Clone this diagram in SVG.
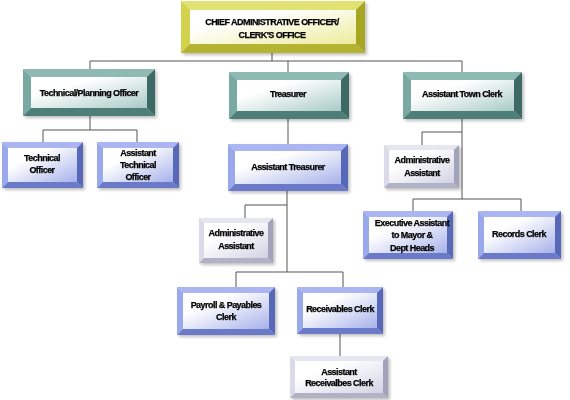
<svg xmlns="http://www.w3.org/2000/svg" width="570" height="400" viewBox="0 0 570 400">
<defs>
<linearGradient id="gy" x1="0" y1="0" x2="1" y2="1"><stop offset="0.3" stop-color="#ffffff"/><stop offset="1" stop-color="#ecec9c"/></linearGradient>
<linearGradient id="gt" x1="0" y1="0" x2="1" y2="1"><stop offset="0.3" stop-color="#ffffff"/><stop offset="1" stop-color="#a9cbc6"/></linearGradient>
<linearGradient id="gb" x1="0" y1="0" x2="1" y2="1"><stop offset="0.3" stop-color="#ffffff"/><stop offset="1" stop-color="#a7b2ea"/></linearGradient>
<linearGradient id="gg" x1="0" y1="0" x2="1" y2="1"><stop offset="0.3" stop-color="#ffffff"/><stop offset="1" stop-color="#d2d2e4"/></linearGradient>
<filter id="sh" x="-10%" y="-10%" width="125%" height="130%"><feDropShadow dx="2" dy="2" stdDeviation="1.5" flood-color="#000" flood-opacity="0.25"/></filter>
</defs>
<style>
.y .t{fill:#e2e272}.y .l{fill:#d2d24e}.y .r{fill:#a6a622}.y .b{fill:#b4b432}.y .i{fill:url(#gy)}
.c .t{fill:#8fbab3}.c .l{fill:#79a9a2}.c .r{fill:#3e6b65}.c .b{fill:#4e7e78}.c .i{fill:url(#gt)}
.u .t{fill:#aab5f2}.u .l{fill:#9aa8ec}.u .r{fill:#5867b8}.u .b{fill:#6a79c8}.u .i{fill:url(#gb)}
.g .t{fill:#e6e6f0}.g .l{fill:#dadae8}.g .r{fill:#a2a2ba}.g .b{fill:#b2b2c6}.g .i{fill:url(#gg)}
.node{filter:url(#sh)}
text{font-family:"Liberation Sans",Arial,sans-serif;font-weight:bold;font-size:9px;letter-spacing:-0.55px;text-anchor:middle;fill:#000;stroke:#000;stroke-width:0.25px}
.links line{stroke:#555;stroke-width:1}
</style>
<g class="links">
<line x1="272" y1="53" x2="272" y2="61"/><line x1="90" y1="61" x2="462" y2="61"/>
<line x1="90" y1="61" x2="90" y2="69"/><line x1="288" y1="61" x2="288" y2="72"/><line x1="462" y1="61" x2="462" y2="72"/>
<line x1="90" y1="116" x2="90" y2="130"/><line x1="43" y1="130" x2="137" y2="130"/>
<line x1="43" y1="130" x2="43" y2="142"/><line x1="137" y1="130" x2="137" y2="142"/>
<line x1="288" y1="119" x2="288" y2="144"/>
<line x1="287" y1="191" x2="287" y2="272"/><line x1="245" y1="205" x2="287" y2="205"/><line x1="245" y1="205" x2="245" y2="218"/>
<line x1="236" y1="272" x2="343" y2="272"/><line x1="236" y1="272" x2="236" y2="287"/><line x1="343" y1="272" x2="343" y2="287"/>
<line x1="340" y1="334" x2="340" y2="356"/>
<line x1="462" y1="119" x2="462" y2="199"/><line x1="422" y1="132" x2="462" y2="132"/><line x1="422" y1="132" x2="422" y2="145"/>
<line x1="413" y1="199" x2="521" y2="199"/><line x1="413" y1="199" x2="413" y2="211"/><line x1="521" y1="199" x2="521" y2="211"/>
</g>
<g id="chief" class="node y">
<polygon class="t" points="181,1 365,1 356,10 190,10"/><polygon class="l" points="181,1 190,10 190,44 181,53"/><polygon class="r" points="365,1 365,53 356,44 356,10"/><polygon class="b" points="181,53 365,53 356,44 190,44"/><rect class="i" x="190" y="10" width="166" height="34"/>
<text x="272" y="25">CHIEF ADMINISTRATIVE OFFICER/</text><text x="272" y="38">CLERK'S OFFICE</text>
</g>
<g id="planning" class="node c">
<polygon class="t" points="23,69 155,69 147,77 31,77"/><polygon class="l" points="23,69 31,77 31,108 23,116"/><polygon class="r" points="155,69 155,116 147,108 147,77"/><polygon class="b" points="23,116 155,116 147,108 31,108"/><rect class="i" x="31" y="77" width="116" height="31"/>
<text x="89" y="96">Technical/Planning Officer</text>
</g>
<g id="treasurer" class="node c">
<polygon class="t" points="229,72 349,72 341,80 237,80"/><polygon class="l" points="229,72 237,80 237,111 229,119"/><polygon class="r" points="349,72 349,119 341,111 341,80"/><polygon class="b" points="229,119 349,119 341,111 237,111"/><rect class="i" x="237" y="80" width="104" height="31"/>
<text x="288" y="97">Treasurer</text>
</g>
<g id="townclerk" class="node c">
<polygon class="t" points="403,72 522,72 514,80 411,80"/><polygon class="l" points="403,72 411,80 411,111 403,119"/><polygon class="r" points="522,72 522,119 514,111 514,80"/><polygon class="b" points="403,119 522,119 514,111 411,111"/><rect class="i" x="411" y="80" width="103" height="31"/>
<text x="462" y="97">Assistant Town Clerk</text>
</g>
<g id="techofficer" class="node u">
<polygon class="t" points="2,142 83,142 77,148 8,148"/><polygon class="l" points="2,142 8,148 8,182 2,188"/><polygon class="r" points="83,142 83,188 77,182 77,148"/><polygon class="b" points="2,188 83,188 77,182 8,182"/><rect class="i" x="8" y="148" width="69" height="34"/>
<text x="42" y="161">Technical</text><text x="42" y="173">Officer</text>
</g>
<g id="asttechofficer" class="node u">
<polygon class="t" points="97,142 179,142 173,148 103,148"/><polygon class="l" points="97,142 103,148 103,182 97,188"/><polygon class="r" points="179,142 179,188 173,182 173,148"/><polygon class="b" points="97,188 179,188 173,182 103,182"/><rect class="i" x="103" y="148" width="70" height="34"/>
<text x="138" y="156">Assistant</text><text x="138" y="168">Technical</text><text x="138" y="180">Officer</text>
</g>
<g id="asttreasurer" class="node u">
<polygon class="t" points="228,144 348,144 341,151 235,151"/><polygon class="l" points="228,144 235,151 235,184 228,191"/><polygon class="r" points="348,144 348,191 341,184 341,151"/><polygon class="b" points="228,191 348,191 341,184 235,184"/><rect class="i" x="235" y="151" width="106" height="33"/>
<text x="288" y="170">Assistant Treasurer</text>
</g>
<g id="admin1" class="node g">
<polygon class="t" points="199,218 273,218 268,223 204,223"/><polygon class="l" points="199,218 204,223 204,258 199,263"/><polygon class="r" points="273,218 273,263 268,258 268,223"/><polygon class="b" points="199,263 273,263 268,258 204,258"/><rect class="i" x="204" y="223" width="64" height="35"/>
<text x="236" y="236">Administrative</text><text x="236" y="249">Assistant</text>
</g>
<g id="admin2" class="node g">
<polygon class="t" points="384,145 459,145 454,150 389,150"/><polygon class="l" points="384,145 389,150 389,183 384,188"/><polygon class="r" points="459,145 459,188 454,183 454,150"/><polygon class="b" points="384,188 459,188 454,183 389,183"/><rect class="i" x="389" y="150" width="65" height="33"/>
<text x="422" y="163">Administrative</text><text x="422" y="176">Assistant</text>
</g>
<g id="exec" class="node u">
<polygon class="t" points="363,211 453,211 447,217 369,217"/><polygon class="l" points="363,211 369,217 369,253 363,259"/><polygon class="r" points="453,211 453,259 447,253 447,217"/><polygon class="b" points="363,259 453,259 447,253 369,253"/><rect class="i" x="369" y="217" width="78" height="36"/>
<text x="412" y="226">Executive Assistant</text><text x="412" y="238">to Mayor &amp;</text><text x="412" y="251">Dept Heads</text>
</g>
<g id="records" class="node u">
<polygon class="t" points="478,211 561,211 555,217 484,217"/><polygon class="l" points="478,211 484,217 484,253 478,259"/><polygon class="r" points="561,211 561,259 555,253 555,217"/><polygon class="b" points="478,259 561,259 555,253 484,253"/><rect class="i" x="484" y="217" width="71" height="36"/>
<text x="519" y="237">Records Clerk</text>
</g>
<g id="payroll" class="node u">
<polygon class="t" points="177,287 275,287 269,293 183,293"/><polygon class="l" points="177,287 183,293 183,329 177,335"/><polygon class="r" points="275,287 275,335 269,329 269,293"/><polygon class="b" points="177,335 275,335 269,329 183,329"/><rect class="i" x="183" y="293" width="86" height="36"/>
<text x="226" y="308">Payroll &amp; Payables</text><text x="226" y="320">Clerk</text>
</g>
<g id="receivables" class="node u">
<polygon class="t" points="297,287 383,287 377,293 303,293"/><polygon class="l" points="297,287 303,293 303,328 297,334"/><polygon class="r" points="383,287 383,334 377,328 377,293"/><polygon class="b" points="297,334 383,334 377,328 303,328"/><rect class="i" x="303" y="293" width="74" height="35"/>
<text x="340" y="312">Receivables Clerk</text>
</g>
<g id="astreceivables" class="node g">
<polygon class="t" points="290,356 388,356 383,361 295,361"/><polygon class="l" points="290,356 295,361 295,393 290,398"/><polygon class="r" points="388,356 388,398 383,393 383,361"/><polygon class="b" points="290,398 388,398 383,393 295,393"/><rect class="i" x="295" y="361" width="88" height="32"/>
<text x="339" y="375">Assistant</text><text x="339" y="386">Receivalbes Clerk</text>
</g>
</svg>
